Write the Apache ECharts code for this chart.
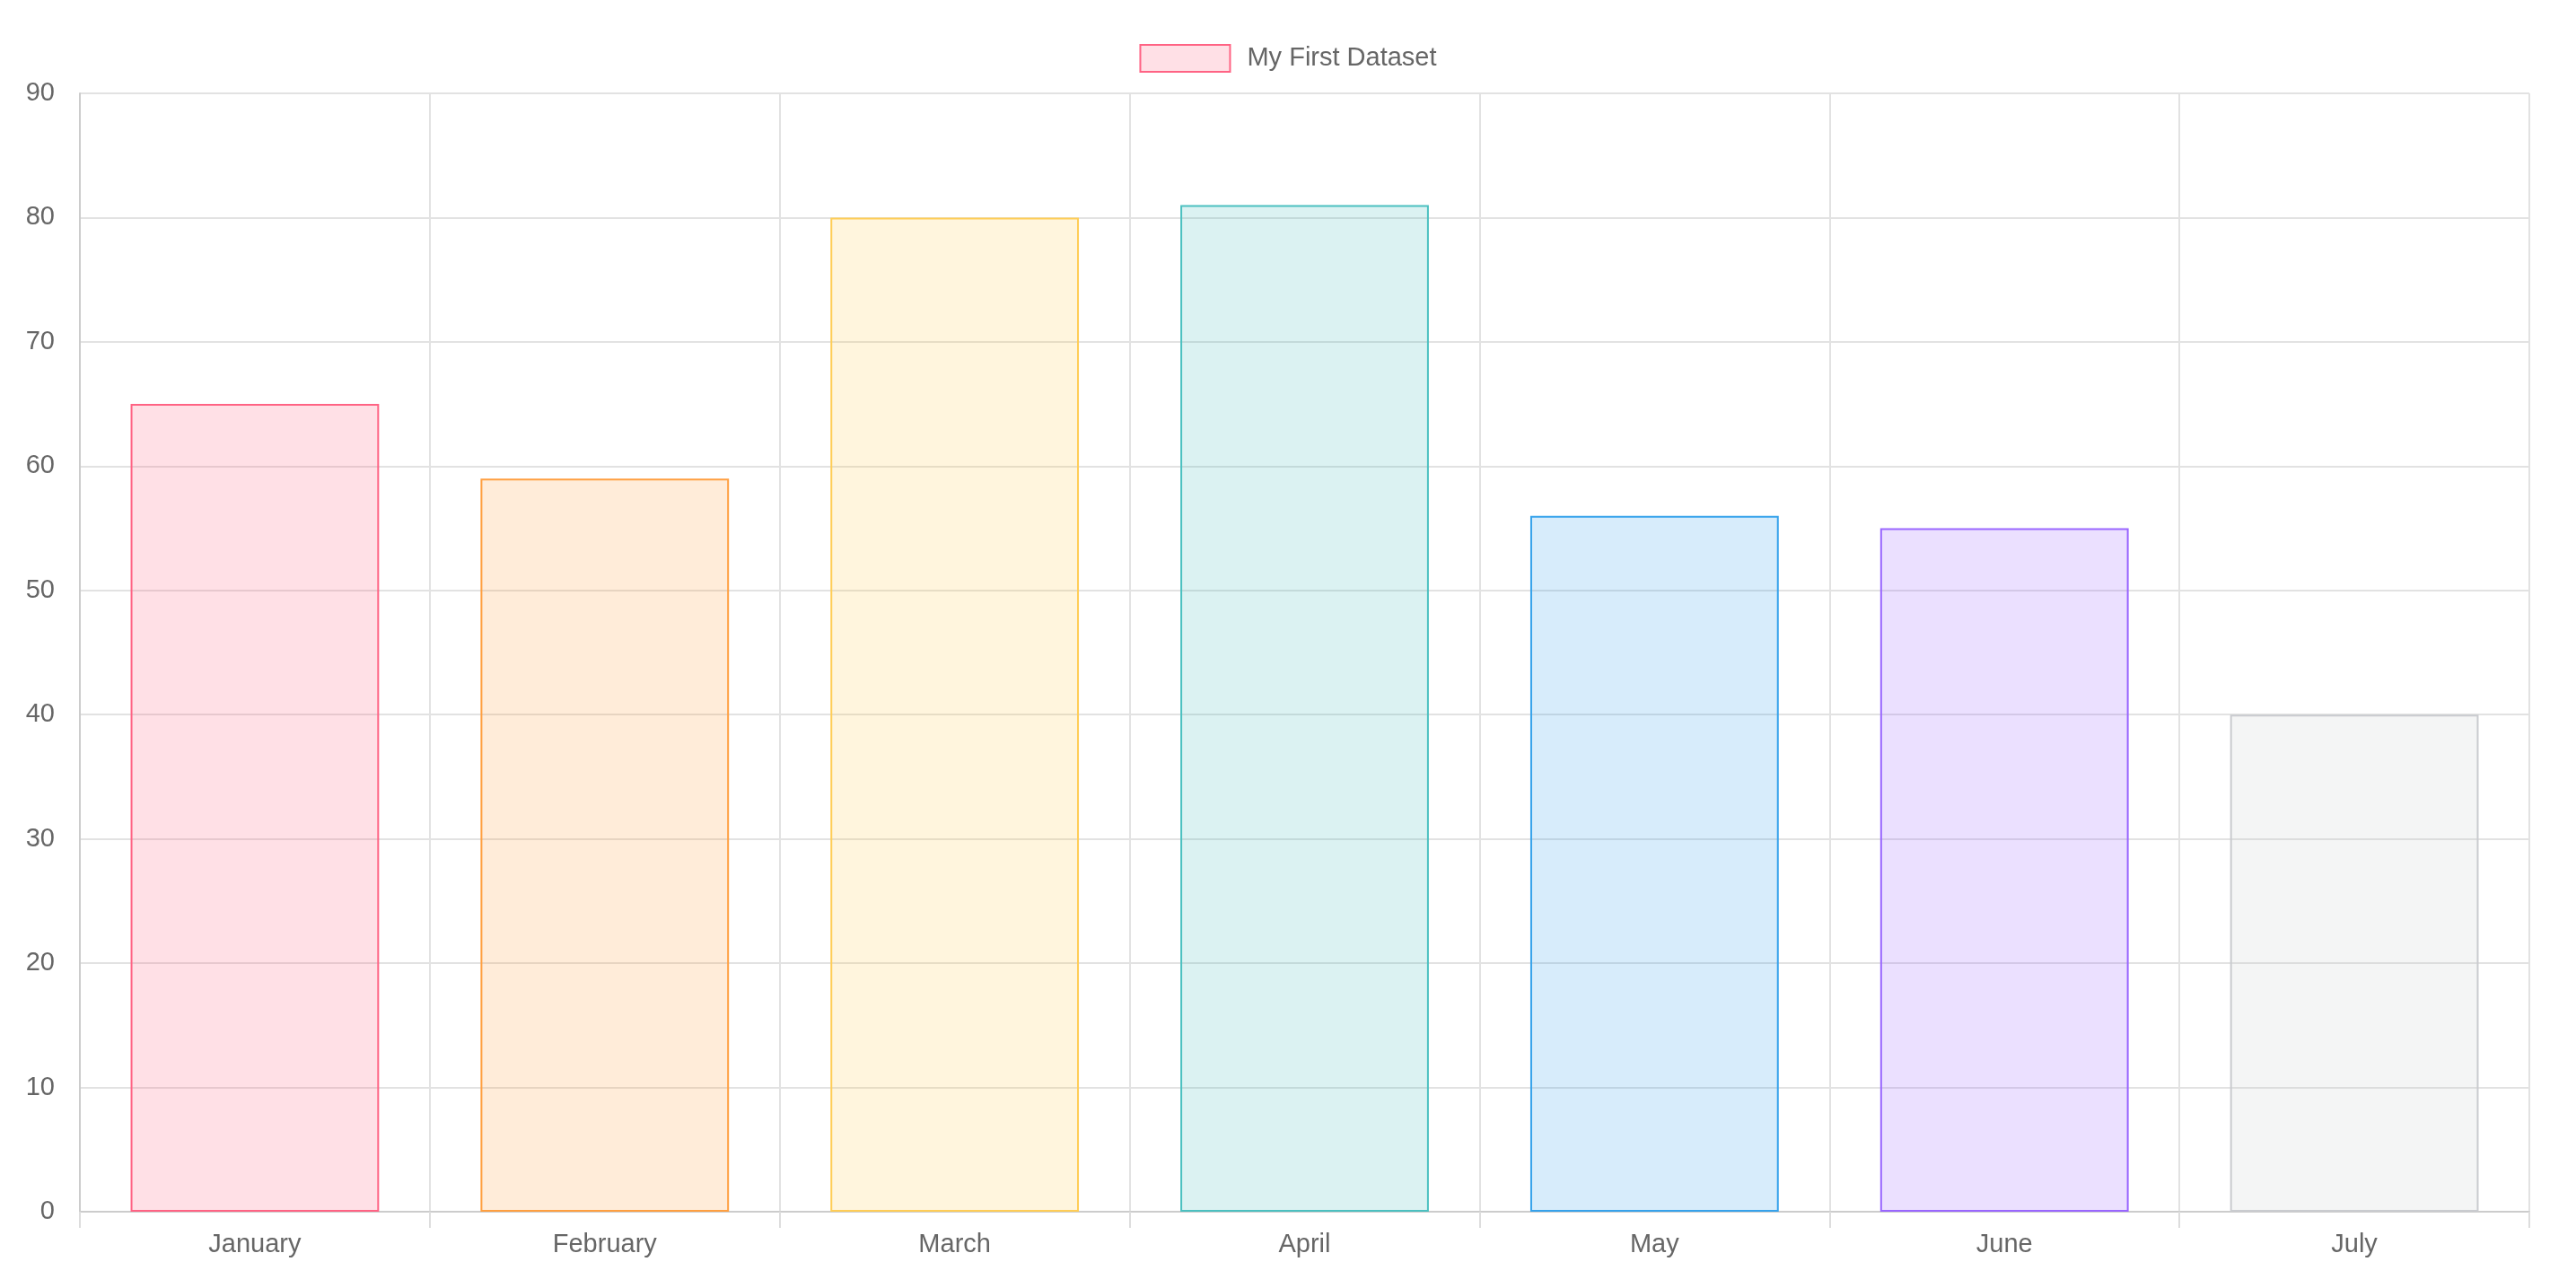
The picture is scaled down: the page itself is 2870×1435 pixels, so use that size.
<!DOCTYPE html>
<html>
<head>
<meta charset="utf-8">
<script src="https://cdn.jsdelivr.net/npm/echarts@6/dist/echarts.min.js"></script>
<style>html,body{margin:0;padding:0;background:#fff}#chart{width:2870px;height:1435px}</style>
</head>
<body>
<div id="chart"></div>
<script>
// 数据
const categories = ['January', 'February', 'March', 'April', 'May', 'June', 'July'];
const values = [65, 59, 80, 81, 56, 55, 40];
const seriesName = 'My First Dataset';
const borderColors = ['rgb(255,99,132)', 'rgb(255,159,64)', 'rgb(255,205,86)', 'rgb(75,192,192)',
    'rgb(54,162,235)', 'rgb(153,102,255)', 'rgb(201,203,207)'];

const fill = c => c.replace('rgb(', 'rgba(').replace(')', ',0.2)');

const chart = echarts.init(document.getElementById('chart'));
const font = 'Arial, "Liberation Sans", sans-serif';
chart.setOption({
    animation: false,
    legend: {
        top: 44,
        left: 'center',
        data: [seriesName],
        icon: 'rect',
        itemWidth: 100,
        itemHeight: 30,
        itemGap: 20,
        textStyle: { color: '#666', fontSize: 29, fontFamily: font, padding: [0, 0, 0, 14] }
    },
    grid: { left: 89, right: 52, top: 104, bottom: 85 },
    xAxis: {
        type: 'category',
        data: categories,
        axisLine: { lineStyle: { color: '#ccc', width: 2 } },
        axisTick: { show: true, length: 18, lineStyle: { color: '#ddd', width: 2 } },
        axisLabel: { color: '#666', fontSize: 29, fontFamily: font, margin: 22 },
        splitLine: { show: true, lineStyle: { color: '#e2e2e2', width: 2 } }
    },
    yAxis: {
        type: 'value',
        min: 0, max: 90, interval: 10,
        axisLine: { show: true, lineStyle: { color: '#ccc', width: 2 } },
        axisTick: { show: false },
        axisLabel: { color: '#666', fontSize: 29, fontFamily: font, margin: 28 },
        splitLine: { lineStyle: { color: '#e2e2e2', width: 2 } }
    },
    series: [{
        name: seriesName,
        type: 'bar',
        barWidth: '71%',
        itemStyle: { color: fill(borderColors[0]), borderColor: borderColors[0], borderWidth: 2 },
        data: values.map((v, i) => ({
            value: v,
            itemStyle: { color: fill(borderColors[i]), borderColor: borderColors[i], borderWidth: 2 }
        }))
    }]
});
</script>
</body>
</html>
